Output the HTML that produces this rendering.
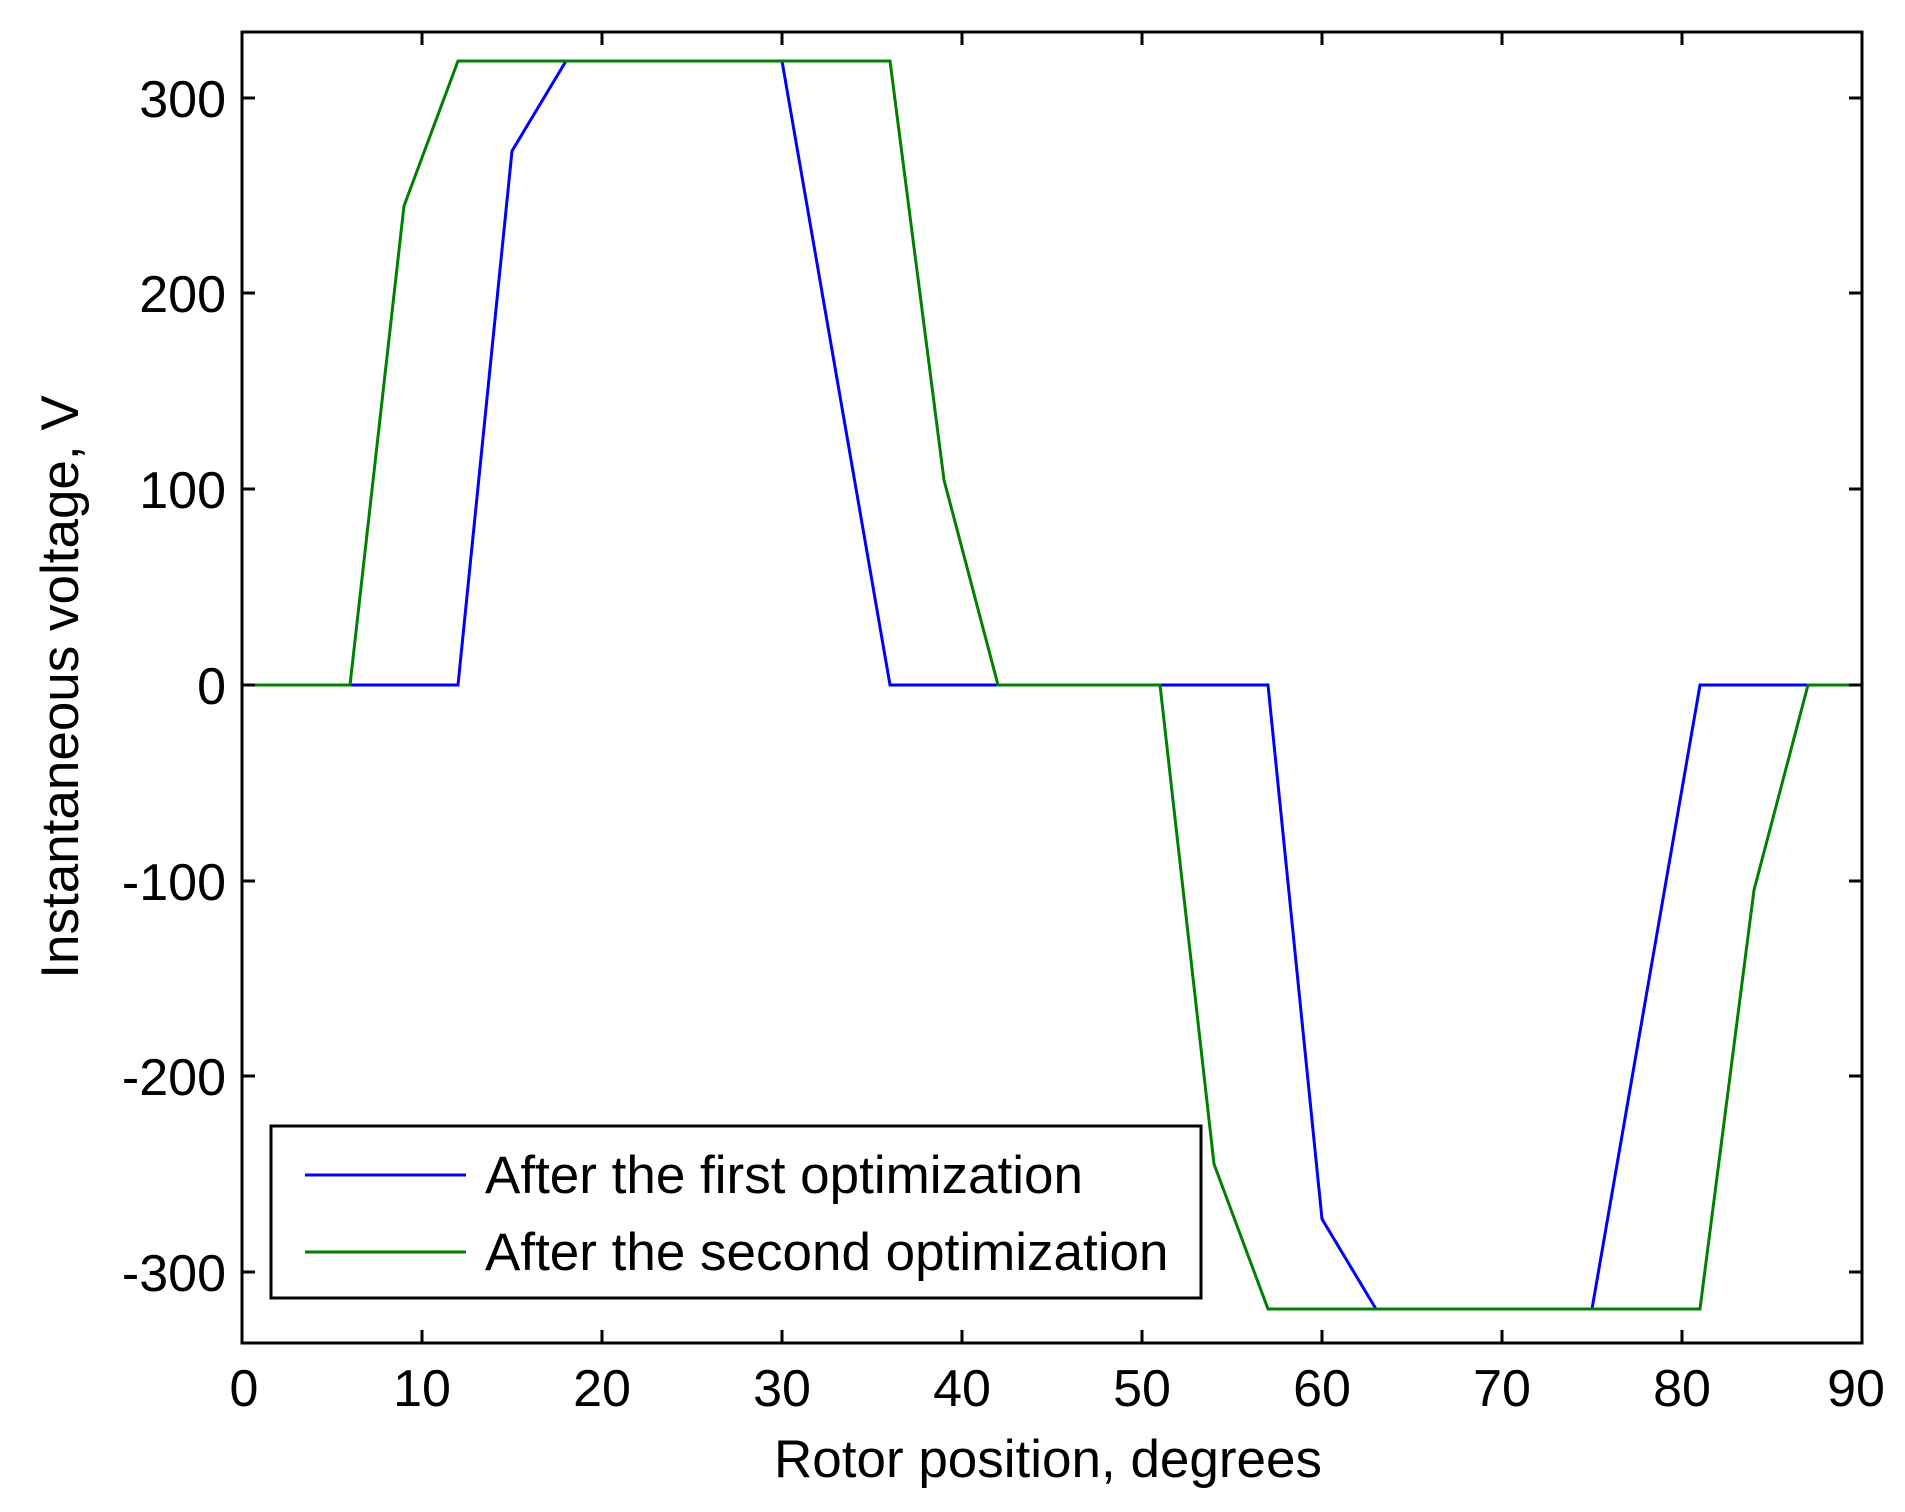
<!DOCTYPE html>
<html><head><style>body{margin:0;background:#fff}svg{display:block}text{font-family:"Liberation Sans",sans-serif;fill:#000}</style></head>
<body>
<svg width="1905" height="1512" viewBox="0 0 1905 1512" xmlns="http://www.w3.org/2000/svg">
<rect width="1905" height="1512" fill="#fff"/>
<g fill="none" stroke-width="3">
<polyline stroke="#0000ff" points="242,685 458,685 512,151 566,61 782,61 890,685 1268,685 1322,1219 1376,1309 1592,1309 1700,685 1862,685"/>
<polyline stroke="#008000" points="242,685 350,685 404,206 458,61 890,61 944,480 998,685 1160,685 1214,1164 1268,1309 1700,1309 1754,890 1808,685 1862,685"/>
</g>
<g stroke="#000" stroke-width="3" fill="none">
<rect x="242" y="32" width="1620" height="1311"/>
<path d="M422,32v13M602,32v13M782,32v13M962,32v13M1142,32v13M1322,32v13M1502,32v13M1682,32v13
M422,1343v-13M602,1343v-13M782,1343v-13M962,1343v-13M1142,1343v-13M1322,1343v-13M1502,1343v-13M1682,1343v-13
M242,98h13M242,293h13M242,489h13M242,685h13M242,881h13M242,1076h13M242,1272h13
M1862,98h-13M1862,293h-13M1862,489h-13M1862,685h-13M1862,881h-13M1862,1076h-13M1862,1272h-13"/>
</g>
<g font-size="52" text-anchor="end">
<text x="226" y="117">300</text><text x="226" y="312">200</text><text x="226" y="508">100</text><text x="226" y="704">0</text>
<text x="226" y="900">-100</text><text x="226" y="1095">-200</text><text x="226" y="1291">-300</text>
</g>
<g font-size="52" text-anchor="middle">
<text x="244" y="1406">0</text><text x="422" y="1406">10</text><text x="602" y="1406">20</text><text x="782" y="1406">30</text><text x="962" y="1406">40</text>
<text x="1142" y="1406">50</text><text x="1322" y="1406">60</text><text x="1502" y="1406">70</text><text x="1682" y="1406">80</text><text x="1856" y="1406">90</text>
</g>
<g font-size="53" text-anchor="middle">
<text x="1048" y="1477">Rotor position, degrees</text>
<text transform="translate(78,687) rotate(-90)">Instantaneous voltage, V</text>
</g>
<rect x="271" y="1126" width="930" height="172" fill="#fff" stroke="#000" stroke-width="3"/>
<line x1="305" y1="1175" x2="466" y2="1175" stroke="#0000ff" stroke-width="3"/>
<line x1="305" y1="1252" x2="466" y2="1252" stroke="#008000" stroke-width="3"/>
<g font-size="53">
<text x="485" y="1193">After the first optimization</text>
<text x="485" y="1270">After the second optimization</text>
</g>
</svg>
</body></html>
